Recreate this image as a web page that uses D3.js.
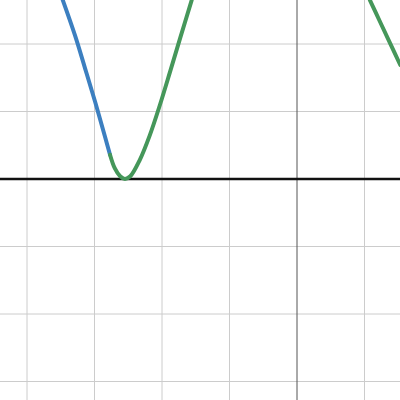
<!DOCTYPE html>
<html><head><meta charset="utf-8">
<script src="https://cdn.jsdelivr.net/npm/d3@7"></script>
<style>body{margin:0;background:#fff}</style></head>
<body><svg id="chart" width="400" height="400"></svg>
<script>
// curve samples in graph units
var blueX = [-3.47, -3.29, -3.14, -2.99, -2.84, -2.77];
var blueY = [2.65, 2.13, 1.64, 1.14, 0.61, 0.36];
var greenX = [-2.77, -2.70, -2.62, -2.55, -2.47, -2.33, -2.18, -2.03, -1.88, -1.73, -1.56];
var greenY = [0.36, 0.16, 0.04, 0.0, 0.04, 0.28, 0.65, 1.10, 1.59, 2.09, 2.65];
var green2X = [1.08, 1.23, 1.38, 1.53];
var green2Y = [2.65, 2.33, 2.01, 1.69];
var gridX = [-4, -3, -2, -1, 1, 2];
var gridY = [-3, -2, -1, 1, 2];

var width = 400, height = 400;
var svg = d3.select("#chart");
var u = 67.5;
var x = d3.scaleLinear().domain([0, 1]).range([297, 297 + u]);
var y = d3.scaleLinear().domain([0, 1]).range([179, 179 - u]);

svg.selectAll(".gx").data(gridX).enter().append("line")
    .attr("x1", d => x(d)).attr("x2", d => x(d)).attr("y1", 0).attr("y2", height)
    .attr("stroke", "#ccc").attr("stroke-width", 1);
svg.selectAll(".gy").data(gridY).enter().append("line")
    .attr("y1", d => y(d)).attr("y2", d => y(d)).attr("x1", 0).attr("x2", width)
    .attr("stroke", "#ccc").attr("stroke-width", 1);

// y axis
svg.append("line").attr("x1", x(0)).attr("x2", x(0)).attr("y1", 0).attr("y2", height)
    .attr("stroke", "#555").attr("stroke-width", 1);
// y = 0 line
svg.append("line").attr("x1", 0).attr("x2", width).attr("y1", y(0)).attr("y2", y(0))
    .attr("stroke", "#111").attr("stroke-width", 2.5);

var line = d3.line().x(d => x(d[0])).y(d => y(d[1])).curve(d3.curveCatmullRom);
function draw(xs, ys, color) {
    svg.append("path").datum(d3.zip(xs, ys)).attr("d", line)
        .attr("fill", "none").attr("stroke", color).attr("stroke-width", 4)
        .attr("stroke-linecap", "round");
}
draw(blueX, blueY, "#3c7fc0");
draw(greenX, greenY, "#45975a");
draw(green2X, green2Y, "#45975a");
</script></body></html>
